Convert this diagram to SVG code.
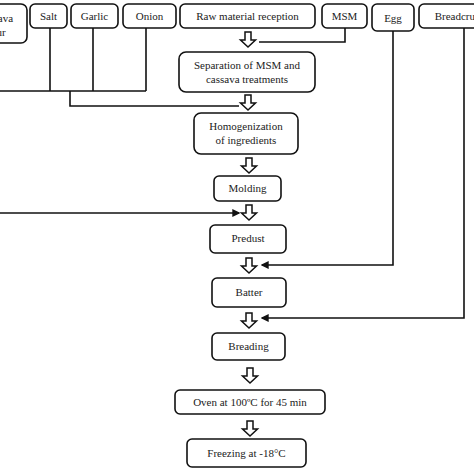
<svg xmlns="http://www.w3.org/2000/svg" width="474" height="474" viewBox="0 0 474 474">
<defs>
<style>
.box{fill:#fff;stroke:#111;stroke-width:1.6}
.t{font-family:"Liberation Serif","DejaVu Serif",serif;font-size:11px;fill:#222;text-anchor:middle}
.ln{fill:none;stroke:#111;stroke-width:1.6}
.ha{fill:#fff;stroke:#111;stroke-width:1.5;stroke-linejoin:miter}
</style>
<marker id="ah" viewBox="0 0 6 6" refX="5" refY="3" markerWidth="5" markerHeight="5" orient="auto">
<path d="M0,0 L6,3 L0,6 z" fill="#111"/>
</marker>
<path id="hollow" d="M-3,0 H3 V8 H7.5 L0,15 L-7.5,8 H-3 Z"/>
</defs>
<g id="connectors">
<path class="ln" d="M50,28 V91 M93,28 V91 M146,28 V91 M0,91 H146"/>
<path class="ln" d="M70,91 V106 H239"/>
<path class="ln" d="M345,28 V42 H259"/>
<path class="ln" d="M0,213 H239" marker-end="url(#ah)"/>
<path class="ln" d="M393,31 V265 H262" marker-end="url(#ah)"/>
<path class="ln" d="M464,28 V318 H262" marker-end="url(#ah)"/>
<use href="#hollow" class="ha" x="248" y="32"/>
<use href="#hollow" class="ha" x="248" y="95"/>
<use href="#hollow" class="ha" x="249" y="158"/>
<use href="#hollow" class="ha" x="249" y="205"/>
<use href="#hollow" class="ha" x="249" y="258"/>
<use href="#hollow" class="ha" x="249" y="313"/>
<use href="#hollow" class="ha" x="250" y="368"/>
<use href="#hollow" class="ha" x="250" y="421"/>
</g>
<g id="cassava"><rect class="box" x="-50" y="4" width="77" height="39" rx="6"/><text class="t" x="-5" y="22">Cassava</text><text class="t" x="-5" y="36">flour</text></g>
<g id="salt"><rect class="box" x="30" y="4" width="37" height="24" rx="5"/><text class="t" x="48.5" y="20">Salt</text></g>
<g id="garlic"><rect class="box" x="71" y="4" width="47" height="24" rx="5"/><text class="t" x="94.5" y="20">Garlic</text></g>
<g id="onion"><rect class="box" x="123" y="4" width="53" height="24" rx="5"/><text class="t" x="149.5" y="20">Onion</text></g>
<g id="raw"><rect class="box" x="180" y="4" width="135" height="24" rx="5"/><text class="t" x="247.5" y="20">Raw material reception</text></g>
<g id="msm"><rect class="box" x="322" y="4" width="45" height="24" rx="5"/><text class="t" x="344.5" y="20">MSM</text></g>
<g id="egg"><rect class="box" x="372" y="4" width="42" height="27" rx="5"/><text class="t" x="393" y="22">Egg</text></g>
<g id="breadcrumbs"><rect class="box" x="419" y="4" width="80" height="24" rx="5"/><text class="t" x="464" y="20">Breadcrumbs</text></g>
<g id="separation"><rect class="box" x="179" y="52" width="136" height="40" rx="7"/><text class="t" x="247" y="69">Separation of MSM and</text><text class="t" x="247" y="83">cassava treatments</text></g>
<g id="homogenization"><rect class="box" x="194" y="113" width="104" height="41" rx="7"/><text class="t" x="246" y="130">Homogenization</text><text class="t" x="246" y="144">of ingredients</text></g>
<g id="molding"><rect class="box" x="214" y="176" width="67" height="25" rx="5"/><text class="t" x="247.5" y="192">Molding</text></g>
<g id="predust"><rect class="box" x="210" y="225" width="76" height="28" rx="5"/><text class="t" x="248" y="242">Predust</text></g>
<g id="batter"><rect class="box" x="212" y="278" width="74" height="29" rx="5"/><text class="t" x="249" y="296">Batter</text></g>
<g id="breading"><rect class="box" x="212" y="333" width="73" height="27" rx="5"/><text class="t" x="248.5" y="350">Breading</text></g>
<g id="oven"><rect class="box" x="175" y="390" width="150" height="24" rx="5"/><text class="t" x="250" y="406">Oven at 100ºC for 45 min</text></g>
<g id="freezing"><rect class="box" x="187" y="439" width="119" height="28" rx="5"/><text class="t" x="246.5" y="457">Freezing at -18°C</text></g>
</svg>
